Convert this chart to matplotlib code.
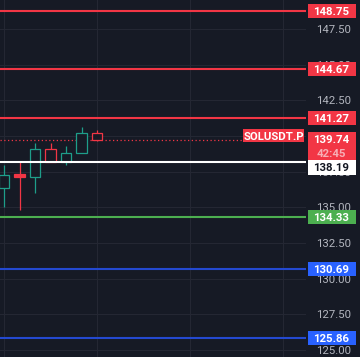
import matplotlib.pyplot as plt
from matplotlib.patches import Rectangle
from matplotlib.transforms import blended_transform_factory

# candles
opens = [136.33, 137.34, 137.11, 139.07, 138.16, 138.79, 140.19]
highs = [137.97, 138.20, 139.49, 139.49, 139.32, 140.65, 140.42]
lows = [135.04, 134.81, 136.03, 138.16, 137.97, 138.79, 139.67]
closes = [137.27, 137.11, 139.09, 138.16, 138.83, 140.23, 139.74]

# horizontal levels
red_levels = [148.75, 144.67, 141.27]
white_level = 138.19
green_level = 134.33
blue_levels = [130.69, 125.86]

yticks = [125.0, 127.5, 130.0, 132.5, 135.0, 137.5, 140.0, 142.5, 145.0, 147.5]
symbol = "SOLUSDT.P"
countdown = "42:45"

bg = '#161A25'
grid_c = '#242733'
red = '#F23645'
green = '#4CAF50'
blue_line = '#2449D0'
blue_box = '#2962FF'
up_c = '#1E9E8A'

plt.rcParams['font.family'] = ['Roboto', 'DejaVu Sans']

fig = plt.figure(figsize=(3.6, 3.57), dpi=100)
fig.patch.set_facecolor(bg)
ax = fig.add_axes([0, 0, 306 / 360, 1])
ax.set_facecolor(bg)
ax.set_xlim(-0.26, 19.48)
ax.set_ylim(124.51, 149.53)
for s in ax.spines.values():
    s.set_visible(False)

ax.yaxis.tick_right()
ax.set_yticks(yticks)
ax.set_yticklabels([f"{t:.2f}" for t in yticks])
ax.tick_params(axis='y', length=0, pad=7.2, labelcolor='#B2B5BE', labelsize=8.2)
ax.set_xticks([0, 6, 12, 18])
ax.tick_params(axis='x', length=0, labelbottom=False)
ax.grid(color=grid_c, lw=0.8, zorder=0)
ax.set_axisbelow(True)

# candles, hollow bodies
x = list(range(len(opens)))
for i in x:
    o, h, l, c = opens[i], highs[i], lows[i], closes[i]
    col = up_c if c >= o else red
    top, bot = max(o, c), min(o, c)
    ax.vlines(i, top, h, color=col, lw=0.9, zorder=2)
    ax.vlines(i, l, bot, color=col, lw=0.9, zorder=2)
    ax.bar(i, max(top - bot, 0.12), bottom=bot, width=0.66,
           facecolor=bg if top - bot > 0.3 else col, edgecolor=col, lw=0.9, zorder=2)

# level lines
for v in red_levels:
    ax.axhline(v, color=red, lw=1.5, zorder=3)
ax.axhline(white_level, color='white', lw=1.5, zorder=3)
ax.axhline(green_level, color=green, lw=1.5, zorder=3)
for v in blue_levels:
    ax.axhline(v, color=blue_line, lw=1.5, zorder=3)

# current price dotted line
last = closes[-1]
ax.axhline(last, xmax=243 / 306, color=red, lw=0.9, ls=(0, (1, 2)), zorder=1)

trans = blended_transform_factory(fig.transFigure, ax.transData)


def box(ytop, height, x0, x1, face):
    ax.add_patch(Rectangle((x0 / 360, ytop - height), (x1 - x0) / 360, height,
                           transform=trans, facecolor=face, edgecolor='none',
                           clip_on=False, zorder=5))


def label(y, text, color='white', xc=331.5, weight='bold'):
    ax.text(xc / 360, y, text, transform=trans, ha='center', va='center_baseline',
            color=color, fontsize=8.2, fontweight=weight, clip_on=False, zorder=6)


# level price boxes
for v in red_levels:
    box(v + 0.49, 0.98, 308, 356, red)
    label(v, f"{v:.2f}")
box(green_level + 0.49, 0.98, 308, 356, green)
label(green_level, f"{green_level:.2f}")
for v in blue_levels:
    box(v + 0.49, 0.98, 308, 356, blue_box)
    label(v, f"{v:.2f}")

# current price box with countdown
cur_top = last + 0.54
box(cur_top, 1.96, 308, 356, red)
label(cur_top - 0.5, f"{last:.2f}")
label(cur_top - 1.45, countdown, color='#F7AEB6')

# white level box pushed below the current price box
w_top = cur_top - 1.96
box(w_top, 1.05, 308, 356, 'white')
label(w_top - 0.52, f"{white_level:.2f}", color='#131722')

# symbol tag
box(last + 0.75, 0.92, 243, 304, red)
label(last + 0.29, symbol, xc=273.5)

fig.savefig('out.png', dpi=100, facecolor=bg)
